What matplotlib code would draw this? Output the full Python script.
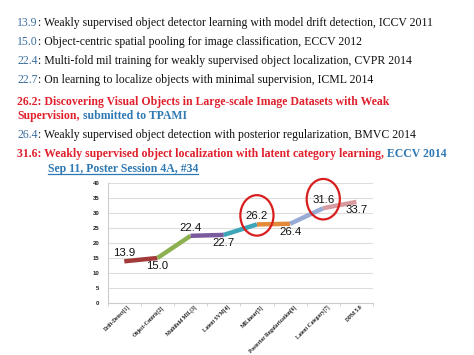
import numpy as np
import matplotlib.pyplot as plt
from matplotlib.patches import Ellipse
from matplotlib.lines import Line2D

W, H = 474, 355

methods = ["Drift-Detect[1]", "Object-Centric[2]", "Multifold MIL[3]", "Latent SVM[4]",
           "MILinear[5]", "Posterior Regularization[6]", "Latent Category[7]", "DPM 5.0"]
scores = [13.9, 15.0, 22.4, 22.7, 26.2, 26.4, 31.6, 33.7]
label_side = ["above", "below", "above", "below", "above", "below", "above", "below"]
seg_colors = ["#A33A3A", "#8DB050", "#7A5C9E", "#3DA5B8", "#E2893A", "#98ABD6", "#D79A9F"]
highlighted = [4, 6]
yticks = [0, 5, 10, 15, 20, 25, 30, 35, 40]

BLUE = "#3B6FA0"
RED = "#E0202C"
BBLUE = "#2E78B4"
BLACK = "#111111"

# (text, color, bold, underline) per line, with x start and baseline in pixels
lines = [
    (17, 26, [("13.9", BLUE, False, False),
              (": Weakly supervised object detector learning with model drift detection, ICCV 2011", BLACK, False, False)]),
    (17, 45, [("15.0", BLUE, False, False),
              (": Object-centric spatial pooling for image classification, ECCV 2012", BLACK, False, False)]),
    (17, 64, [("22.4", BLUE, False, False),
              (": Multi-fold mil training for weakly supervised object localization, CVPR 2014", BLACK, False, False)]),
    (17, 83, [("22.7", BLUE, False, False),
              (": On learning to localize objects with minimal supervision, ICML 2014", BLACK, False, False)]),
    (17, 105, [("26.2: Discovering Visual Objects in Large-scale Image Datasets with Weak", RED, True, False)]),
    (17, 119, [("Supervision,", RED, True, False),
               (" submitted to TPAMI", BBLUE, True, False)]),
    (17, 138, [("26.4", BLUE, False, False),
               (": Weakly supervised object detection with posterior regularization, BMVC 2014", BLACK, False, False)]),
    (17, 157, [("31.6: Weakly supervised object localization with latent category learning,", RED, True, False),
               (" ECCV 2014", BBLUE, True, False)]),
    (48, 172, [("Sep 11, Poster Session 4A, #34", BBLUE, True, True)]),
]

fig = plt.figure(figsize=(W / 100, H / 100), dpi=100)
renderer = fig.canvas.get_renderer()

for x0, base, parts in lines:
    x = x0
    for txt, col, bold, under in parts:
        t = fig.text(x / W, 1 - base / H, txt, color=col, fontsize=8.5,
                     family="Liberation Serif", weight="bold" if bold else "normal",
                     ha="left", va="baseline")
        bb = t.get_window_extent(renderer)
        if under:
            yl = 1 - (base + 2) / H
            fig.add_artist(Line2D([x / W, (x + bb.width) / W], [yl, yl], color=col, lw=0.9))
        x += bb.width

ax = fig.add_axes([107.7 / W, 1 - 303 / H, (373 - 107.7) / W, 120 / H])
xs = np.arange(len(methods))

for i in range(len(scores) - 1):
    ax.plot(xs[i:i + 2], scores[i:i + 2], color=seg_colors[i], lw=3.2,
            solid_capstyle="butt", zorder=3)

for i, (v, side) in enumerate(zip(scores, label_side)):
    dy = 8 if side == "above" else -8
    ax.annotate(f"{v:.1f}", (xs[i], v), xytext=(0, dy), textcoords="offset pixels",
                ha="center", va="center", fontsize=8.2, family="Liberation Sans",
                color="#111111", zorder=5)

for i in highlighted:
    ax.add_patch(Ellipse((xs[i], scores[i] + 3.0), 1.0, 13.5, fill=False,
                         edgecolor="#D81E1E", lw=1.6, clip_on=False, zorder=6))

ax.set_xlim(-0.5, len(methods) - 0.5)
ax.set_ylim(0, 40)
ax.set_yticks(yticks)
ax.set_yticklabels([str(v) for v in yticks], fontsize=4.3, weight="bold",
                   family="Liberation Sans", color="#222222")
ax.set_xticks(xs + 0.1)
ax.set_xticklabels(methods, rotation=45, ha="right", rotation_mode="anchor",
                   fontsize=4.0, weight="bold", family="Liberation Serif", color="#1a1a1a")
ax.set_xticks(np.arange(len(methods) + 1) - 0.5, minor=True)
ax.tick_params(axis="x", which="major", length=0, pad=1)
ax.tick_params(axis="x", which="minor", length=2, color="#CCCCCC")
ax.tick_params(axis="y", length=0, pad=6)
ax.grid(axis="y", color="#DDDDDD", lw=0.8)
ax.set_axisbelow(True)
for s in ["top", "right"]:
    ax.spines[s].set_visible(False)
ax.spines["left"].set_color("#CCCCCC")
ax.spines["bottom"].set_color("#CCCCCC")
ax.spines["left"].set_linewidth(0.8)
ax.spines["bottom"].set_linewidth(0.8)

fig.savefig("out.png", dpi=100)
